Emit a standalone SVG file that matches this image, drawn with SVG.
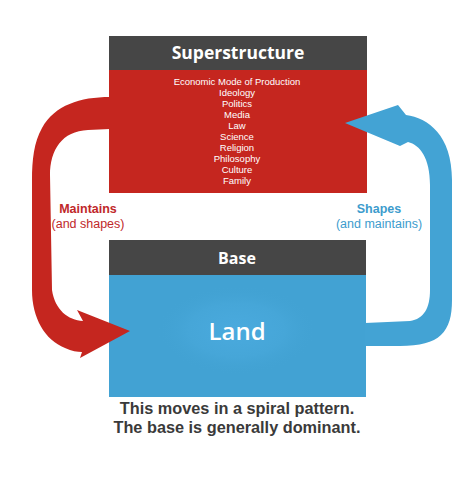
<svg xmlns="http://www.w3.org/2000/svg" width="474" height="488" viewBox="0 0 474 488">
<defs>
<style>
.hdr{fill:#464646}
.title{font-family:"Open Sans",sans-serif;font-weight:700;fill:#ffffff;text-anchor:middle}
.item{font-family:"Liberation Sans",Arial,sans-serif;font-size:9.5px;fill:#ffffff;text-anchor:middle}
.lbl{font-family:"Liberation Sans",Arial,sans-serif;font-size:12.5px;text-anchor:middle}
.note{font-family:"Liberation Sans",Arial,sans-serif;font-weight:700;font-size:16.3px;fill:#3a3a3a;text-anchor:middle}
</style>
<radialGradient id="glow" cx="0.5" cy="0.5" r="0.5">
<stop offset="0" stop-color="#4aaade"/>
<stop offset="0.6" stop-color="#46a6d8"/>
<stop offset="1" stop-color="#42a2d3" stop-opacity="0"/>
</radialGradient>
</defs>
<rect width="474" height="488" fill="#ffffff"/>
<g id="superstructure">
<rect x="109" y="36" width="258" height="35" class="hdr"/>
<rect x="109" y="70" width="258" height="123" fill="#c5261f"/>
<text x="238" y="59" class="title" font-size="17.5">Superstructure</text>
<text x="237" y="85" class="item">Economic Mode of Production</text>
<text x="237" y="96" class="item">Ideology</text>
<text x="237" y="107" class="item">Politics</text>
<text x="237" y="118" class="item">Media</text>
<text x="237" y="129" class="item">Law</text>
<text x="237" y="140" class="item">Science</text>
<text x="237" y="151" class="item">Religion</text>
<text x="237" y="162" class="item">Philosophy</text>
<text x="237" y="173" class="item">Culture</text>
<text x="237" y="184" class="item">Family</text>
</g>
<g id="base">
<rect x="109" y="240" width="257" height="36" class="hdr"/>
<rect x="109" y="275" width="257" height="122" fill="#42a2d3"/>
<ellipse cx="237" cy="330" rx="80" ry="45" fill="url(#glow)"/>
<text x="237" y="264" class="title" font-size="16">Base</text>
<text x="237" y="340" font-family="Open Sans, sans-serif" font-weight="600" font-size="24" fill="#ffffff" text-anchor="middle">Land</text>
</g>
<g id="connectors">
<path id="maintains" fill="#c5261f" d="M110,97 C80,97 55,105 42,128 C34,142 32,160 32,180 L32,290 C32,318 45,340 65,348 C72,351 77,352 82,352 L80,358 L130,331 L77,310 L83,321 C68,320 55,310 52,290 L50,175 C50,150 62,131 88,130 L110,129 Z"/>
<path id="shapes" fill="#43a3d4" d="M365,323 L410,321 C424,319 430,308 430,290 L430,185 C430,158 420,145 408,142 L400,146 L345,123 L398,105 L406,115 C428,118 452,135 452,180 L452,300 C452,332 440,346 400,346 L365,346 Z"/>
</g>
<g id="labels">
<text x="88" y="213" class="lbl" font-weight="700" fill="#c0282a">Maintains</text>
<text x="88" y="228" class="lbl" fill="#c0282a">(and shapes)</text>
<text x="379" y="213" class="lbl" font-weight="700" fill="#3d9ccd">Shapes</text>
<text x="379" y="228" class="lbl" fill="#3d9ccd">(and maintains)</text>
</g>
<g id="note">
<text x="237" y="414" class="note">This moves in a spiral pattern.</text>
<text x="237" y="433" class="note">The base is generally dominant.</text>
</g>
</svg>
